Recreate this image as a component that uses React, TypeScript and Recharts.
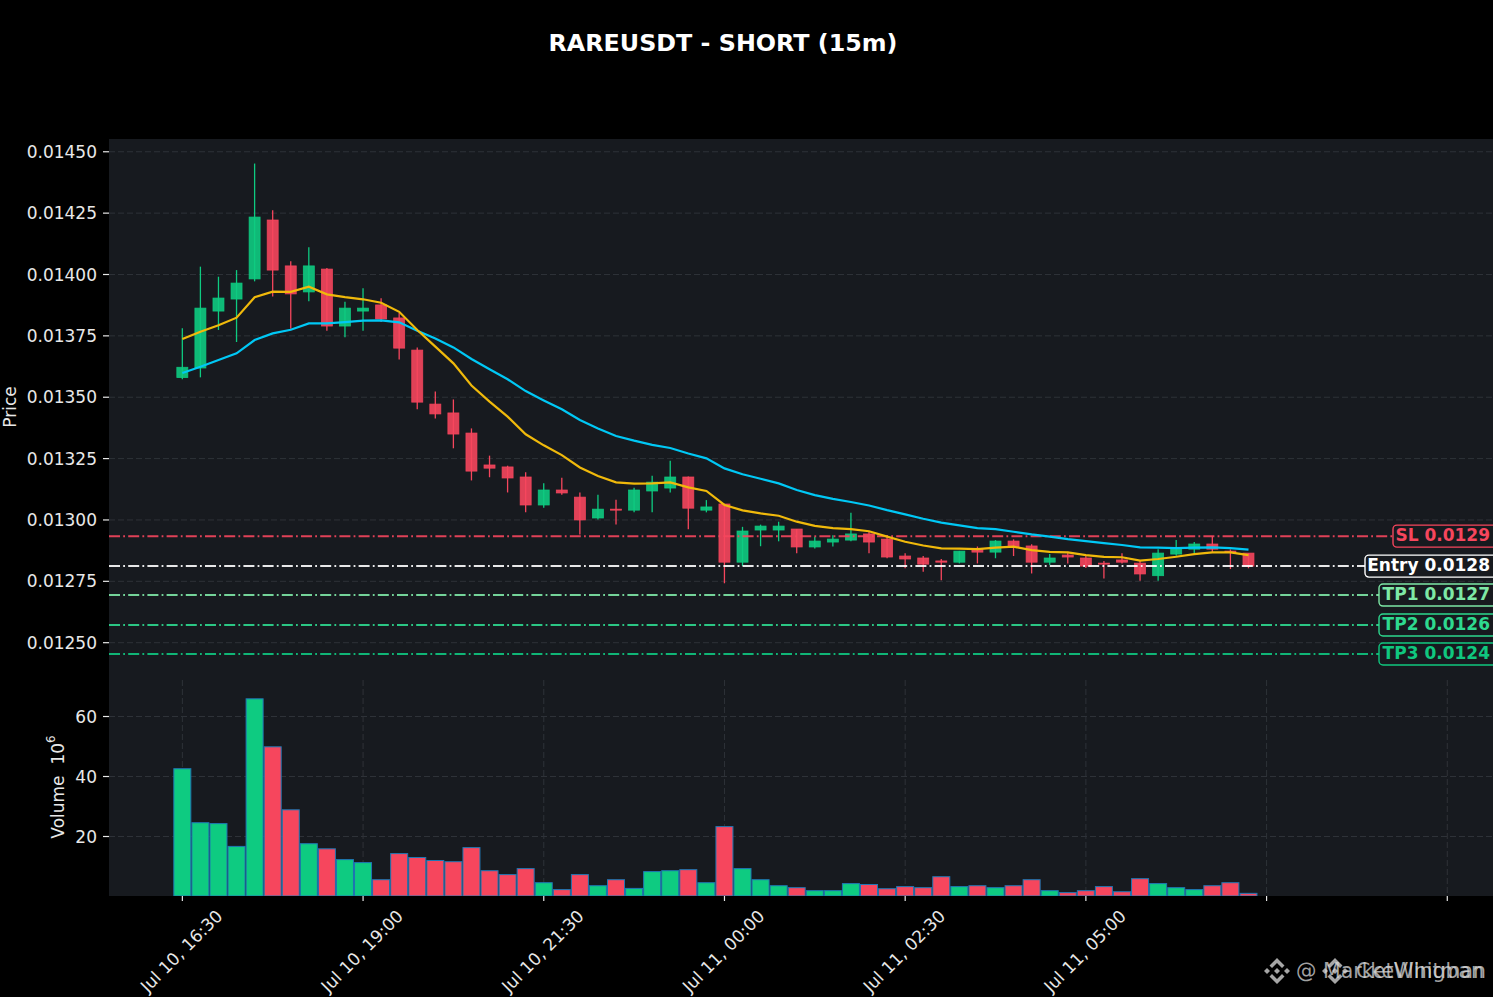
import React from 'react';
import { ComposedChart, Bar, Line, XAxis, YAxis, CartesianGrid, ReferenceLine } from 'recharts';

const opens = [0.01358,0.013619,0.013851,0.0139,0.013982,0.014222,0.014035,0.013929,0.014022,0.01379,0.013851,0.013876,0.013823,0.013692,0.013472,0.013436,0.013354,0.013224,0.013216,0.013175,0.013061,0.013122,0.013093,0.013008,0.013044,0.01304,0.013118,0.01313,0.013175,0.01304,0.013065,0.012828,0.012959,0.012959,0.012963,0.01289,0.01291,0.012918,0.012943,0.012922,0.012853,0.012845,0.012833,0.012828,0.012881,0.012869,0.012914,0.012894,0.012828,0.012857,0.012845,0.012824,0.012837,0.012824,0.012773,0.012861,0.012881,0.012902,0.012873,0.012865];
const closes = [0.013622,0.013863,0.013904,0.013965,0.014234,0.014018,0.013921,0.014035,0.01379,0.013863,0.013863,0.013819,0.0137,0.01348,0.013432,0.01335,0.013199,0.013211,0.013171,0.013061,0.013122,0.01311,0.013,0.013044,0.01304,0.013122,0.013154,0.013175,0.013048,0.013053,0.012828,0.012955,0.012975,0.012975,0.01289,0.012914,0.012922,0.012943,0.01291,0.012849,0.012841,0.01282,0.012828,0.012873,0.012869,0.012914,0.01289,0.012828,0.012845,0.012849,0.012812,0.01282,0.012828,0.01278,0.012865,0.012885,0.012902,0.012881,0.012869,0.012812];
const highs = [0.013781,0.014032,0.013991,0.014018,0.014452,0.014262,0.014054,0.014111,0.014026,0.013889,0.013944,0.013903,0.013843,0.013703,0.013523,0.013491,0.013373,0.013262,0.013221,0.013194,0.01315,0.013172,0.013112,0.013103,0.013082,0.013131,0.01318,0.013241,0.013177,0.013081,0.013065,0.012972,0.012981,0.012993,0.012963,0.012932,0.012938,0.013029,0.012951,0.012938,0.012864,0.012853,0.012841,0.012874,0.012892,0.012918,0.012921,0.012901,0.012861,0.01287,0.012857,0.012833,0.012864,0.012837,0.012881,0.012918,0.01291,0.012934,0.01288,0.012865];
const lows = [0.013573,0.013581,0.013774,0.013725,0.013972,0.01391,0.013779,0.013891,0.013771,0.013744,0.013771,0.013806,0.013654,0.013451,0.013413,0.013292,0.013161,0.013174,0.013112,0.013031,0.01305,0.013103,0.012941,0.013002,0.012982,0.013031,0.013031,0.013112,0.012962,0.013031,0.012742,0.012812,0.012893,0.012913,0.012864,0.012884,0.012892,0.012913,0.012864,0.012844,0.012803,0.012789,0.012754,0.012823,0.012823,0.012844,0.012853,0.012782,0.012816,0.012823,0.012804,0.012762,0.012823,0.012752,0.012752,0.012854,0.012865,0.012865,0.0128,0.012803];
const emaFast = [0.013737,0.013767,0.013793,0.013824,0.013907,0.01393,0.013929,0.01395,0.013919,0.013908,0.013899,0.013885,0.013848,0.013774,0.013706,0.013638,0.013548,0.013482,0.013421,0.013349,0.013304,0.013264,0.013214,0.013179,0.013153,0.013148,0.013149,0.013153,0.013133,0.013118,0.013061,0.013039,0.013027,0.013017,0.012993,0.012976,0.012967,0.012963,0.012954,0.012932,0.012911,0.012896,0.012884,0.012883,0.012881,0.012887,0.012891,0.012877,0.01287,0.012868,0.012857,0.01285,0.012848,0.012834,0.012841,0.01285,0.012861,0.012868,0.012868,0.012857];
const emaSlow = [0.013599,0.013624,0.013652,0.013679,0.013733,0.01376,0.013775,0.013801,0.013801,0.013806,0.013812,0.013813,0.013805,0.013771,0.013739,0.013703,0.013656,0.013614,0.013573,0.013525,0.013487,0.013451,0.013407,0.013373,0.013342,0.013323,0.013306,0.013293,0.013271,0.013251,0.01321,0.013186,0.013168,0.013149,0.013122,0.013101,0.013086,0.013073,0.013059,0.01304,0.013023,0.013005,0.012989,0.012978,0.012967,0.012963,0.012952,0.012941,0.012932,0.012922,0.012914,0.012906,0.012898,0.012888,0.012887,0.012885,0.012887,0.012888,0.012885,0.012879];
const volumes = [42.6,24.6,24.3,16.7,65.9,49.9,28.9,17.6,15.9,12.3,11.3,5.6,14.3,13,12,11.6,16.3,8.6,7.3,9.3,4.6,2.3,7.3,3.6,5.6,2.7,8.3,8.6,8.95,4.6,23.3,9.3,5.6,3.6,2.95,1.95,1.95,4.3,4,2.6,3.3,2.95,6.6,3.3,3.6,2.95,3.6,5.6,1.95,1.3,1.95,3.3,1.6,5.95,4.3,2.95,2.3,3.6,4.6,1.05];
const slotTicks = [0,10,20,30,40,50,60,70];
const slotLabels = ['Jul 10, 16:30','Jul 10, 19:00','Jul 10, 21:30','Jul 11, 00:00','Jul 11, 02:30','Jul 11, 05:00','',''];
const priceTicks = [0.0125,0.01275,0.013,0.01325,0.0135,0.01375,0.014,0.01425,0.0145];
const volumeTicks = [20,40,60];
const levels = [
  { name: 'SL 0.0129', value: 0.012934, color: '#f6465d', boxX: 1393 },
  { name: 'Entry 0.0128', value: 0.012812, color: '#ffffff', boxX: 1365 },
  { name: 'TP1 0.0127', value: 0.012694, color: '#7ee8a6', boxX: 1379 },
  { name: 'TP2 0.0126', value: 0.012572, color: '#2ed98f', boxX: 1379 },
  { name: 'TP3 0.0124', value: 0.012454, color: '#10c77f', boxX: 1379 },
];

const rows = opens.map((open, i) => ({
  slot: i, open, close: closes[i], high: highs[i], low: lows[i],
  emaFast: emaFast[i], emaSlow: emaSlow[i], volume: volumes[i],
  range: [lows[i], highs[i]],
}));

const GREEN = '#0ecb81';
const RED = '#f6465d';
const PANEL = '#171a1f';
const GRID = '#2e3238';
const TEXT = '#e8e8e8';
const FONT = '"DejaVu Sans", sans-serif';
const FONT_SIZE = 17;
const xDomain = [-4.06, 72.53];

function Candle(props: any) {
  const { x, y, width, height, payload } = props;
  const cx = x + width / 2;
  const up = payload.close >= payload.open;
  const color = up ? GREEN : RED;
  const span = payload.high - payload.low;
  const top = Math.max(payload.open, payload.close);
  const bottom = Math.min(payload.open, payload.close);
  const bodyY = y + ((payload.high - top) / span) * height;
  const bodyH = Math.max(((top - bottom) / span) * height, 1);
  return (
    <g>
      <line x1={cx} x2={cx} y1={y} y2={y + height} stroke={color} strokeWidth={1.3} />
      <rect x={cx - 5.5} y={bodyY} width={11} height={bodyH} fill={color} fillOpacity={0.9} stroke={color} strokeOpacity={0.9} strokeWidth={0.8} />
    </g>
  );
}

function VolumeBar(props: any) {
  const { x, y, width, height, payload } = props;
  const fill = payload.close >= payload.open ? GREEN : RED;
  return <rect x={x + 0.5} y={y} width={width - 1} height={height} fill={fill} stroke="#1f77b4" strokeWidth={1} />;
}

function SlotTick(props: any) {
  const { x, payload } = props;
  const i = slotTicks.indexOf(payload.value);
  const label = slotLabels[i];
  if (!label) return null;
  return (
    <text x={x - 1} y={271} transform={`rotate(-45 ${x - 1} 271)`} textAnchor="middle" dominantBaseline="central"
      fill={TEXT} fontFamily={FONT} fontSize={FONT_SIZE}>{label}</text>
  );
}

function LevelLabel(props: any) {
  const { viewBox, name, color, boxX } = props;
  const y = viewBox.y;
  return (
    <g>
      <rect x={boxX} y={y - 11} width={1493 - boxX + 6} height={22} rx={4} ry={4} fill={PANEL} stroke={color} strokeWidth={1.4} />
      <text x={1490} y={y - 1} textAnchor="end" dominantBaseline="central" fill={color} fontFamily={FONT} fontWeight="bold" fontSize={FONT_SIZE}>{name}</text>
    </g>
  );
}

function Diamond({ x, y }: { x: number; y: number }) {
  const fill = '#d0d0d0';
  return (
    <g transform={`translate(${x} ${y})`} fill={fill} fillOpacity={0.8}>
      <polygon points="0,-13 7.5,-5.5 5,-3 0,-8 -5,-3 -7.5,-5.5" />
      <polygon points="0,13 7.5,5.5 5,3 0,8 -5,3 -7.5,5.5" />
      <polygon points="-13,0 -10,-3 -7,0 -10,3" />
      <polygon points="13,0 10,-3 7,0 10,3" />
      <polygon points="0,-3 3,0 0,3 -3,0" />
    </g>
  );
}

const tickStyle = { fill: TEXT, fontFamily: FONT, fontSize: FONT_SIZE };
const tickLineStyle = { stroke: TEXT, strokeWidth: 1.2 };

export default function App() {
  return (
    <div style={{ position: 'absolute', left: 0, top: 0, width: 1493, height: 997, background: '#000', overflow: 'hidden' }}>
      <div style={{ position: 'absolute', left: 0, top: 0 }}>
        <ComposedChart width={1493} height={680} data={rows} margin={{ top: 139, right: 0, bottom: 0, left: 0 }}>
          <CartesianGrid stroke={GRID} strokeDasharray="6 3" fill={PANEL} syncWithTicks />
          <XAxis dataKey="slot" type="number" domain={xDomain} allowDataOverflow ticks={slotTicks} height={0} tick={false} axisLine={false} tickLine={false} />
          <YAxis type="number" domain={[0.012348, 0.014552]} allowDataOverflow ticks={priceTicks} width={109} interval={0}
            tickFormatter={(v: number) => v.toFixed(5)} tick={tickStyle} tickLine={tickLineStyle} tickSize={6} tickMargin={6} axisLine={false} />
          {levels.map((l) => (
            <ReferenceLine key={l.name} y={l.value} stroke={l.color} strokeOpacity={0.9} strokeWidth={2} strokeDasharray="11 3.2 1.8 3.2"
              label={<LevelLabel name={l.name} color={l.color} boxX={l.boxX} />} />
          ))}
          <Bar dataKey="range" barSize={12} shape={Candle} isAnimationActive={false} />
          <Line dataKey="emaSlow" type="linear" stroke="#00c8f5" strokeWidth={2.2} dot={false} isAnimationActive={false} />
          <Line dataKey="emaFast" type="linear" stroke="#f0b90b" strokeWidth={2.2} dot={false} isAnimationActive={false} />
        </ComposedChart>
      </div>
      <div style={{ position: 'absolute', left: 0, top: 680 }}>
        <ComposedChart width={1493} height={317} data={rows} margin={{ top: 0, right: 0, bottom: 0, left: 0 }}>
          <CartesianGrid stroke={GRID} strokeDasharray="6 3" fill={PANEL} syncWithTicks />
          <XAxis dataKey="slot" type="number" domain={xDomain} allowDataOverflow ticks={slotTicks} interval={0} height={101}
            tick={SlotTick} tickLine={tickLineStyle} tickSize={5} axisLine={false} />
          <YAxis type="number" domain={[0.167, 72.17]} allowDataOverflow ticks={volumeTicks} width={109} interval={0}
            tick={tickStyle} tickLine={tickLineStyle} tickSize={6} tickMargin={6} axisLine={false} />
          <Bar dataKey="volume" barSize={18} shape={VolumeBar} isAnimationActive={false} />
        </ComposedChart>
      </div>
      <svg width={1493} height={997} style={{ position: 'absolute', left: 0, top: 0, pointerEvents: 'none' }}>
        <text x={723} y={43} textAnchor="middle" dominantBaseline="central" fill="#fff" fontFamily={FONT} fontWeight="bold" fontSize={23.8}>RAREUSDT - SHORT (15m)</text>
        <text x={10} y={407} transform="rotate(-90 10 407)" textAnchor="middle" dominantBaseline="central" fill={TEXT} fontFamily={FONT} fontSize={FONT_SIZE}>Price</text>
        <text x={58} y={787} transform="rotate(-90 58 787)" textAnchor="middle" dominantBaseline="central" fill={TEXT} fontFamily={FONT} fontSize={FONT_SIZE} style={{ whiteSpace: 'pre' }}>
          Volume  10<tspan dy={-7} fontSize={12}>6</tspan>
        </text>
        <Diamond x={1277} y={971} />
        <Diamond x={1335} y={971} />
        <text x={1296} y={971} dominantBaseline="central" fill="#d8d8d8" fillOpacity={0.75} fontFamily={FONT} fontSize={20.5}>@ MarketWhitman</text>
        <text x={1356} y={971} dominantBaseline="central" fill="#d8d8d8" fillOpacity={0.75} fontFamily={FONT} fontSize={20.5}>CkeVlingban</text>
      </svg>
    </div>
  );
}
